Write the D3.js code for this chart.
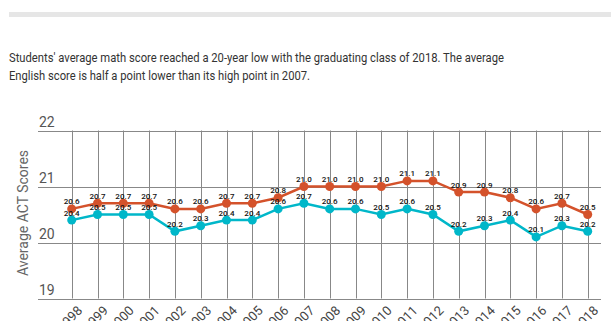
<!DOCTYPE html>
<html><head><meta charset="utf-8">
<script src="https://cdn.jsdelivr.net/npm/d3@7"></script>
<style>body{margin:0;background:#fff;overflow:hidden}</style>
</head><body>
<svg id="c" width="611" height="321"></svg>
<script>
const years = ["1998","1999","2000","2001","2002","2003","2004","2005","2006","2007","2008","2009","2010","2011","2012","2013","2014","2015","2016","2017","2018"];
const english = [20.6,20.7,20.7,20.7,20.6,20.6,20.7,20.7,20.8,21.0,21.0,21.0,21.0,21.1,21.1,20.9,20.9,20.8,20.6,20.7,20.5];
const math = [20.4,20.5,20.5,20.5,20.2,20.3,20.4,20.4,20.6,20.7,20.6,20.6,20.5,20.6,20.5,20.2,20.3,20.4,20.1,20.3,20.2];
const yTicks = [19,20,21,22];
const titleLines = ["Students' average math score reached a 20-year low with the graduating class of 2018. The average","English score is half a point lower than its high point in 2007."];

(function(){
const svg = d3.select("#c");
const font = "Roboto, Arial, sans-serif";
svg.append("rect").attr("x",9).attr("y",12).attr("width",602).attr("height",5).attr("fill","#e6e6e6");
const titleW = [495, 301];
titleLines.forEach((t,i)=>svg.append("text").attr("x",9).attr("y",62+i*18).attr("font-family",font).attr("font-size",13).attr("fill","#333")
  .attr("textLength",titleW[i]).attr("lengthAdjust","spacingAndGlyphs").text(t));

const pLeft=38,pRight=601,pTop=130.5,pBottom=298.5;
const x = d3.scalePoint().domain(years).range([71.7,587.7]);
const y = d3.scaleLinear().domain([19,22]).range([pBottom,pTop]);

const g = svg.append("g");
g.selectAll(".hg").data(yTicks).join("line")
 .attr("x1",pLeft).attr("x2",pRight).attr("y1",d=>Math.round(y(d))+0.5).attr("y2",d=>Math.round(y(d))+0.5)
 .attr("stroke","#888").attr("stroke-width",1);
g.selectAll(".vg").data(years).join("line")
 .attr("x1",d=>Math.round(x(d))+0.5).attr("x2",d=>Math.round(x(d))+0.5).attr("y1",pTop).attr("y2",pBottom)
 .attr("stroke","#888").attr("stroke-width",1);
g.selectAll(".yl").data(yTicks).join("text")
 .attr("x",pLeft+1).attr("y",d=>y(d)-4).attr("font-family",font).attr("font-size",14).attr("fill","#555").text(d=>d);
svg.append("text").attr("transform","translate(28,213) rotate(-90)").attr("text-anchor","middle")
 .attr("font-family",font).attr("font-size",14).attr("fill","#666").text("Average ACT Scores");
g.selectAll(".xl").data(years).join("text")
 .attr("transform",d=>`translate(${x(d)+5},${305}) rotate(-45)`).attr("text-anchor","end")
 .attr("dy","0.7em").attr("font-family",font).attr("font-size",13).attr("fill","#444").text(d=>d);

function series(vals,color){
  const line = d3.line().x((d,i)=>x(years[i])).y(d=>y(d));
  svg.append("path").datum(vals).attr("d",line).attr("fill","none").attr("stroke",color).attr("stroke-width",2.5);
  svg.selectAll(null).data(vals).join("circle").attr("cx",(d,i)=>x(years[i])).attr("cy",d=>y(d)).attr("r",4.5).attr("fill",color);
  svg.selectAll(null).data(vals).join("text").attr("x",(d,i)=>x(years[i])).attr("y",d=>y(d)-4.5)
   .attr("text-anchor","middle").attr("font-family",font).attr("font-size",8).attr("font-weight",500).attr("fill","#111").text(d=>d.toFixed(1));
}
series(english,"#d4522b");
series(math,"#00b7c9");
})();
</script>
</body></html>
